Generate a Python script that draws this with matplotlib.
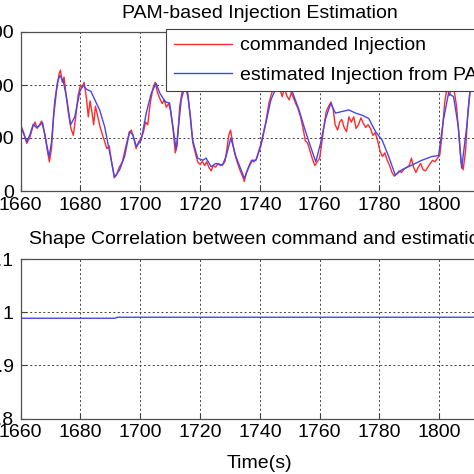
import numpy as np
import matplotlib
matplotlib.use("Agg")
import matplotlib.pyplot as plt

plt.rcParams['font.family'] = ['Liberation Sans', 'DejaVu Sans']
plt.rcParams['font.size'] = 14

# commanded injection (red)
cmd_t = [1660, 1661, 1662, 1663, 1664, 1664.8, 1665.5, 1666.3, 1667, 1667.6, 1668.2, 1668.8,
         1669.6, 1670.3, 1671, 1672, 1672.8, 1673.3, 1673.9, 1674.5, 1675.2, 1676, 1676.8,
         1677.6, 1678.3, 1679.2, 1680, 1680.6, 1681.2, 1682, 1682.6, 1683.2, 1683.8, 1684.4,
         1685, 1685.8, 1686.6, 1687.4, 1688, 1688.8, 1689.6, 1690.4, 1691.3, 1692, 1693, 1694,
         1695, 1696.3, 1697, 1697.8, 1698.6, 1699.4, 1700.3, 1701, 1701.8, 1702.5, 1703.3,
         1704.3, 1705, 1705.8, 1706.5, 1707.3, 1708, 1708.7, 1709.5, 1710.2, 1711, 1711.7,
         1712.3, 1713.2, 1714.2, 1715.2, 1716, 1716.8, 1717.6, 1718.4, 1719.2, 1720, 1720.8,
         1721.5, 1722.2, 1723, 1723.7, 1724.4, 1725.2, 1726, 1726.8, 1727.6, 1728.3, 1729,
         1729.6, 1730.2, 1730.8, 1731.6, 1732.4, 1733.3, 1734.2, 1734.8, 1735.5, 1736.4,
         1737.2, 1738, 1738.8, 1739.6, 1740.4, 1741.2, 1742, 1743, 1744, 1745, 1746, 1746.8,
         1747.5, 1748.2, 1749, 1749.8, 1750.5, 1751.3, 1752, 1752.8, 1753.6, 1754.4, 1755.2,
         1756, 1756.8, 1757.6, 1758.4, 1759.2, 1760, 1760.7, 1761.4, 1762.2, 1763, 1763.8,
         1764.5, 1765.2, 1766, 1766.7, 1767.4, 1768.2, 1769, 1769.8, 1770.6, 1771.4, 1772.2,
         1773, 1773.8, 1774.6, 1775.4, 1776.2, 1777, 1777.8, 1778.6, 1779.4, 1780.2, 1781,
         1781.8, 1782.6, 1783.4, 1784.2, 1785, 1785.8, 1786.6, 1787.4, 1788.3, 1789.2, 1790,
         1790.7, 1791.4, 1792.2, 1793, 1793.8, 1794.6, 1795.4, 1796.2, 1797, 1797.8, 1798.6,
         1799.4, 1800.2, 1801, 1801.8, 1802.6, 1803.4, 1804.2, 1805, 1805.8, 1806.6, 1807.3,
         1808, 1808.8, 1809.6, 1810.4, 1811.2, 1812, 1813, 1814.5, 1816, 1818, 1820]
cmd_v = [125, 110, 90, 100, 120, 130, 118, 125, 132, 118, 105, 80,
         55, 80, 140, 190, 220, 228, 205, 215, 180, 145, 118,
         105, 135, 180, 200, 195, 205, 175, 140, 170, 150, 125,
         160, 140, 120, 105, 95, 80, 85, 55, 25, 30, 45, 55,
         80, 110, 115, 100, 80, 92, 100, 110, 130, 125, 165,
         195, 205, 185, 175, 165, 172, 158, 165, 150, 115, 72,
         85, 160, 195, 195, 175, 140, 90, 72, 55, 50, 56,
         48, 55, 44, 38, 48, 45, 52, 48, 50, 55, 80,
         105, 115, 95, 70, 55, 40, 28, 18, 35, 48,
         58, 55, 60, 75, 90, 110, 130, 165, 185, 200, 205, 190,
         178, 195, 180, 172, 185, 175, 165, 155, 140, 120, 95,
         90, 75, 60, 48, 55, 62, 90, 120, 150, 160, 168,
         155, 125, 115, 130, 135, 120, 112, 140, 130, 140, 118,
         125, 138, 128, 120, 125, 118, 105, 110, 95, 75, 65,
         72, 58, 48, 35, 28, 32, 38, 35, 42, 45, 48,
         62, 45, 35, 45, 52, 40, 38, 45, 52, 58, 55,
         62, 68, 110, 165, 195, 180, 200, 190, 160, 105, 55,
         40, 75, 150, 195, 205, 210, 200, 205, 195, 200, 195]

# estimated injection from PAM (blue)
est_t = [1660, 1661, 1662, 1663, 1664.2, 1665.2, 1666, 1667.3, 1668.1, 1669.5, 1670.3,
         1671.4, 1672.3, 1673.1, 1674.2, 1675.3, 1676.7, 1678.1, 1679.8, 1680.9, 1682,
         1683.5, 1684.8, 1686.4, 1688.1, 1689.8, 1691.4, 1693.1, 1694.8, 1696.4, 1697.5,
         1698.7, 1700.3, 1702, 1703.7, 1705.3, 1706.5, 1707.5, 1708.5, 1709.8, 1710.9, 1712,
         1713.7, 1714.8, 1715.9, 1717.5, 1719.2, 1720.9, 1722, 1723.7, 1725.3, 1727.5,
         1728.7, 1730.3, 1732, 1734.8, 1736.4, 1737.5, 1738.7, 1740.3, 1742, 1743.7, 1745.5,
         1747, 1749, 1751, 1753.1, 1754.8, 1756.4, 1758.7, 1760.3, 1762, 1763.7, 1765.3,
         1767.5, 1769.8, 1772, 1774.2, 1776.4, 1778.7, 1780.9, 1783.1, 1785.3, 1787.5,
         1790.9, 1794.2, 1797.5, 1799.8, 1801.4, 1803.1, 1804.8, 1806.4, 1807.5, 1809.2,
         1810.3, 1812, 1815, 1820]
est_v = [121, 108, 93, 105, 126, 120, 122, 129, 104, 65, 92,
         170, 205, 218, 208, 178, 125, 140, 188, 200, 192,
         188, 172, 153, 121, 72, 26, 40, 66, 112, 106,
         84, 96, 147, 185, 203, 185, 176, 168, 166, 122, 78,
         172, 195, 185, 96, 62, 58, 62, 46, 52, 49,
         65, 100, 65, 24, 46, 58, 58, 84, 128, 172, 195,
         200, 192, 185, 153, 121, 93, 55, 90, 137, 165, 147,
         150, 153, 147, 143, 137, 112, 96, 65, 30, 40,
         49, 58, 65, 67, 134, 184, 178, 121, 43, 121,
         187, 205, 200, 198]

# shape correlation
corr_t = [1660, 1691.5, 1692.5, 1820]
corr_v = [0.9887, 0.9887, 0.9906, 0.9906]

x_ticks = np.arange(1660, 1821, 20)
W = 474.0
fig = plt.figure(figsize=(4.74, 4.74), dpi=100)
ax1 = fig.add_axes([20.7 / W, (W - 191) / W, (499 - 20.7) / W, (191 - 32) / W])
ax2 = fig.add_axes([20.7 / W, (W - 418.7) / W, (499 - 20.7) / W, (418.7 - 259) / W])

grid_kw = dict(color='#404040', linestyle=(0, (2, 2.5)), linewidth=0.7)

ax1.plot(cmd_t, cmd_v, color='#ff2a2a', lw=1.0, label='commanded Injection')
ax1.plot(est_t, est_v, color='#4646f0', lw=1.0, label='estimated Injection from PAM')
ax1.set_xlim(1660, 1820)
ax1.set_ylim(0, 300)
ax1.set_yticks([0, 100, 200, 300])
ax1.set_xticks(x_ticks)
ax1.set_title('PAM-based Injection Estimation', fontsize=14, pad=10)
leg = ax1.legend(loc='upper left', bbox_to_anchor=(166 / W, 1 - 29 / W),
                 bbox_transform=fig.transFigure, borderaxespad=0, fancybox=False,
                 framealpha=1, edgecolor='#404040', handlelength=3.0,
                 handletextpad=0.4, labelspacing=0.6, borderpad=0.4)
leg.get_frame().set_linewidth(0.8)

ax2.plot(corr_t, corr_v, color='#4646f0', lw=1.0)
ax2.set_xlim(1660, 1820)
ax2.set_ylim(0.8, 1.1)
ax2.set_yticks([0.8, 0.9, 1.0, 1.1])
ax2.set_yticklabels(['0.8', '0.9', '1', '1.1'])
ax2.set_xticks(x_ticks)
ax2.set_title('Shape Correlation between command and estimation', fontsize=14, pad=11)
ax2.set_xlabel('Time(s)', labelpad=10)

for ax in (ax1, ax2):
    ax.grid(True, **grid_kw)
    ax.tick_params(direction='in', length=4, width=0.8, color='#404040')
    ax.tick_params(axis='x', pad=4)
    ax.tick_params(axis='y', pad=5)
    for s in ax.spines.values():
        s.set_color('#505050')
        s.set_linewidth(0.9)

fig.savefig('out.png', dpi=100)
